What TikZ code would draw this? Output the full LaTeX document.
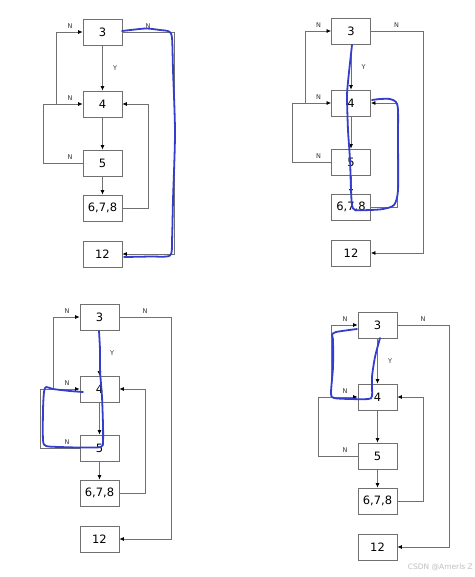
\documentclass[tikz,border=0pt]{standalone}
\usepackage{fontspec}
\setmainfont{DejaVu Sans}
\usetikzlibrary{arrows.meta}
\definecolor{lngray}{HTML}{707070}
\definecolor{penblue}{RGB}{52,62,205}
\tikzset{
  box/.style={draw=lngray, line width=0.8pt, minimum width=39pt, minimum height=26pt, inner sep=0pt, font=\fontsize{11.5}{13}\selectfont},
  ln/.style={draw=lngray, line width=0.7pt},
  arr/.style={ln, -{Latex[length=4.5pt,width=4pt,black]}},
  lbl/.style={font=\fontsize{6.5}{7}\selectfont, text=black!80, inner sep=0pt},
  pen/.style={draw=penblue, line width=1.8pt, line cap=round, line join=round},
  wm/.style={font=\fontsize{7.5}{9}\selectfont, text=black!25, inner sep=0pt, anchor=east}
}
\newcommand\flowch[3]{%
\begin{scope}[shift={(#2,#3)}]
  \node[box] (#1a) at (0,0) {3};
  \node[box] (#1b) at (0,72) {4};
  \node[box] (#1c) at (0,131) {5};
  \node[box] (#1d) at (0,176) {6,7,8};
  \node[box] (#1e) at (0,222) {12};
  \coordinate (#1L1) at (-59,131);
  \coordinate (#1L2) at (-59,72);
  \coordinate (#1J) at (-46,72);
  \coordinate (#1J2) at (-46,0);
  \coordinate (#1R1) at (46,176);
  \coordinate (#1R2) at (46,72);
  \coordinate (#1F1) at (72,0);
  \coordinate (#1F2) at (72,222);
  \draw[arr] (#1a) -- (#1b);
  \draw[arr] (#1b) -- (#1c);
  \draw[arr] (#1c) -- (#1d);
  \draw[arr] (#1c.west) -- (#1L1) -- (#1L2) -- (#1b.west);
  \draw[arr] (#1J) -- (#1J2) -- (#1a.west);
  \draw[arr] (#1d.east) -- (#1R1) -- (#1R2) -- (#1b.east);
  \draw[arr] (#1a.east) -- (#1F1) -- (#1F2) -- (#1e.east);
  \node[lbl] (#1n1) at (-32.5,-6) {N};
  \node[lbl] (#1n2) at (-32.5,66) {N};
  \node[lbl] (#1n3) at (-32.5,125) {N};
  \node[lbl] (#1n4) at (45.5,-6) {N};
  \node[lbl] (#1y) at (12.5,36) {Y};
\end{scope}}
\begin{document}
\begin{tikzpicture}[x=1pt,y=-1pt]
\useasboundingbox (0,0) rectangle (474,577);
\fill[white] (0,0) rectangle (474,577);
\flowch{p}{102.5}{32}
\flowch{q}{351}{31}
\flowch{r}{99.5}{317}
\flowch{s}{377.5}{325}
% blue pen traces
\draw[pen] plot[smooth, tension=0.45] coordinates {(122,31) (135,29.5) (147,28.5) (160,30) (169,31.5) (172,38) (173,70) (175,133) (173,200) (172,240) (170,255.5) (150,256.5) (124,257)};
\draw[pen] plot[smooth, tension=0.45] coordinates {(352,45) (350,63) (348,82) (347,97) (348,130) (350,160) (351,190) (352,205) (355,210) (370,210) (383,209) (394,205) (398,190) (398,140) (398,110) (396,102) (390,99) (380,99) (372,100)};
\draw[pen] plot[smooth, tension=0.45] coordinates {(99,331) (100,350) (100,370) (102,397) (103,425) (103,441) (101,447) (80,447.5) (60,447) (46,446) (43,440) (43,410) (44,392) (46,387) (53,389) (70,391) (83,392)};
\draw[pen] plot[smooth, tension=0.45] coordinates {(380,338) (375,357) (372,377) (372,396) (368,399) (350,399) (334,398) (331,393) (333,367) (333,340) (332,335) (336,332) (357,329)};
\node[wm] (wmk) at (473,567) {CSDN @Amerls Z};
\end{tikzpicture}
\end{document}
